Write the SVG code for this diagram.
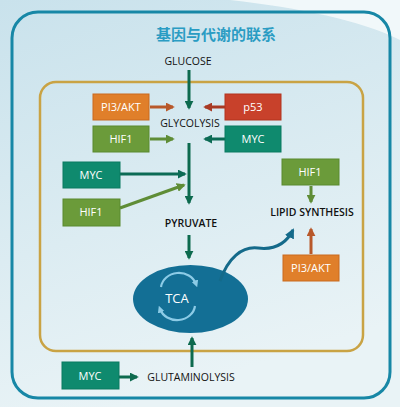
<svg xmlns="http://www.w3.org/2000/svg" width="400" height="407" viewBox="0 0 400 407">
<defs>
<linearGradient id="bg" x1="0" y1="0" x2="0.3" y2="1">
<stop offset="0" stop-color="#c9e2ec"/>
<stop offset="1" stop-color="#e9f3f6"/>
</linearGradient>
<marker id="aG" viewBox="0 0 10 10" refX="8" refY="5" markerWidth="9" markerHeight="9" markerUnits="userSpaceOnUse" orient="auto"><path d="M0,0 L10,5 L0,10 Z" fill="#0d6a4e"/></marker>
<marker id="aO" viewBox="0 0 10 10" refX="8" refY="5" markerWidth="9" markerHeight="9" markerUnits="userSpaceOnUse" orient="auto"><path d="M0,0 L10,5 L0,10 Z" fill="#b8582a"/></marker>
<marker id="aR" viewBox="0 0 10 10" refX="8" refY="5" markerWidth="9" markerHeight="9" markerUnits="userSpaceOnUse" orient="auto"><path d="M0,0 L10,5 L0,10 Z" fill="#a83a24"/></marker>
<marker id="aL" viewBox="0 0 10 10" refX="8" refY="5" markerWidth="9" markerHeight="9" markerUnits="userSpaceOnUse" orient="auto"><path d="M0,0 L10,5 L0,10 Z" fill="#5f8d36"/></marker>
<marker id="aT" viewBox="0 0 10 10" refX="8" refY="5" markerWidth="9" markerHeight="9" markerUnits="userSpaceOnUse" orient="auto"><path d="M0,0 L10,5 L0,10 Z" fill="#0c6b55"/></marker>
<marker id="aB" viewBox="0 0 10 10" refX="8" refY="5" markerWidth="10" markerHeight="10" markerUnits="userSpaceOnUse" orient="auto"><path d="M0,0 L10,5 L0,10 Z" fill="#146a8a"/></marker>
<marker id="aC" viewBox="0 0 10 10" refX="5" refY="5" markerWidth="7" markerHeight="7" markerUnits="userSpaceOnUse" orient="auto"><path d="M0,0 L10,5 L0,10 Z" fill="#8ccbe6"/></marker>
</defs>
<style>
.lbl{font-family:"Open Sans","Noto Sans","Liberation Sans",sans-serif;font-size:10.5px;fill:#111;text-anchor:middle}
.b{font-weight:600}
.bx{font-family:"Open Sans","Noto Sans","Liberation Sans",sans-serif;font-size:11px;fill:#fff;text-anchor:middle}
.or{fill:#e07f2a;stroke:#c96a1e;stroke-width:1}
.rd{fill:#c8412b;stroke:#b2351f;stroke-width:1}
.gr{fill:#6b9b3a;stroke:#5a8a2e;stroke-width:1}
.tl{fill:#0f8a6e;stroke:#0b7a60;stroke-width:1}
.ln{fill:none;stroke-width:3}
</style>
<rect width="400" height="407" fill="url(#bg)"/>
<path d="M230,0 L400,0 L400,40 C360,20 300,8 230,0 Z" fill="#f4f9fb" opacity="0.9"/>
<rect x="12" y="12" width="378" height="386" rx="26" fill="none" stroke="#1787a6" stroke-width="3"/>
<text x="216" y="40" font-family="'Noto Sans CJK SC',sans-serif" font-size="15" font-weight="bold" fill="#2a9cc3" text-anchor="middle">基因与代谢的联系</text>
<rect x="40" y="82" width="323" height="269" rx="16" fill="none" stroke="#c9a344" stroke-width="2.5"/>

<g id="connectors">
<line class="ln" x1="189" y1="70" x2="189" y2="108" stroke="#0d6a4e" marker-end="url(#aG)"/>
<line class="ln" x1="150" y1="107" x2="173" y2="107" stroke="#b8582a" marker-end="url(#aO)"/>
<line class="ln" x1="225" y1="107" x2="205" y2="107" stroke="#a83a24" marker-end="url(#aR)"/>
<line class="ln" x1="150" y1="139" x2="173" y2="139" stroke="#5f8d36" marker-end="url(#aL)"/>
<line class="ln" x1="225" y1="139" x2="205" y2="139" stroke="#0c6b55" marker-end="url(#aT)"/>
<line class="ln" x1="189" y1="143" x2="189" y2="203" stroke="#0d6a4e" marker-end="url(#aG)"/>
<line class="ln" x1="120" y1="174" x2="185" y2="174" stroke="#0c6b55" marker-end="url(#aT)"/>
<line class="ln" x1="120" y1="208" x2="184" y2="185" stroke="#5f8d36" marker-end="url(#aL)"/>
<line class="ln" x1="189" y1="235" x2="189" y2="258" stroke="#0d6a4e" marker-end="url(#aG)"/>
<line class="ln" x1="311" y1="186" x2="311" y2="202" stroke="#5f8d36" marker-end="url(#aL)"/>
<line class="ln" x1="311" y1="254" x2="311" y2="229" stroke="#b8582a" marker-end="url(#aO)"/>
<line class="ln" x1="192" y1="367" x2="192" y2="338" stroke="#0d6a4e" marker-end="url(#aG)"/>
<line class="ln" x1="119" y1="377" x2="137" y2="377" stroke="#0d6a4e" marker-end="url(#aG)"/>
</g>

<text class="lbl" x="188" y="65">GLUCOSE</text>
<text class="lbl" x="190" y="127">GLYCOLYSIS</text>
<text class="lbl b" x="191" y="227">PYRUVATE</text>
<text class="lbl b" x="312" y="216">LIPID SYNTHESIS</text>
<text class="lbl" x="191" y="381">GLUTAMINOLYSIS</text>

<g id="pi3akt1"><rect class="or" x="93" y="94" width="56" height="26"/><text class="bx" x="121" y="111">PI3/AKT</text></g>
<g id="p53"><rect class="rd" x="225" y="94" width="56" height="26"/><text class="bx" x="253" y="111">p53</text></g>
<g id="hif1a"><rect class="gr" x="93" y="126" width="56" height="26"/><text class="bx" x="121" y="143">HIF1</text></g>
<g id="myc1"><rect class="tl" x="225" y="126" width="56" height="26"/><text class="bx" x="253" y="143">MYC</text></g>
<g id="myc2"><rect class="tl" x="63" y="162" width="57" height="26"/><text class="bx" x="91" y="179">MYC</text></g>
<g id="hif1b"><rect class="gr" x="63" y="199" width="57" height="27"/><text class="bx" x="91" y="216">HIF1</text></g>
<g id="hif1c"><rect class="gr" x="282" y="159" width="57" height="26"/><text class="bx" x="310" y="176">HIF1</text></g>
<g id="pi3akt2"><rect class="or" x="283" y="255" width="56" height="26"/><text class="bx" x="311" y="272">PI3/AKT</text></g>
<g id="myc3"><rect class="tl" x="62" y="362" width="57" height="27"/><text class="bx" x="90" y="380">MYC</text></g>

<g id="tca">
<ellipse cx="190.5" cy="299" rx="57.5" ry="34" fill="#136f95"/>
<path d="M161,287 A18,16 0 0 1 196,284" fill="none" stroke="#8ccbe6" stroke-width="2.2" marker-end="url(#aC)"/>
<path d="M195,306 A18,16 0 0 1 160,309" fill="none" stroke="#8ccbe6" stroke-width="2.2" marker-end="url(#aC)"/>
<text x="177" y="303" font-family="'Open Sans','Noto Sans',sans-serif" font-size="13" fill="#fff" text-anchor="middle">TCA</text>
</g>
<path d="M220,281 C228,258 242,246 258,248 C274,250 286,244 293,230" fill="none" stroke="#146a8a" stroke-width="3" marker-end="url(#aB)"/>
</svg>
